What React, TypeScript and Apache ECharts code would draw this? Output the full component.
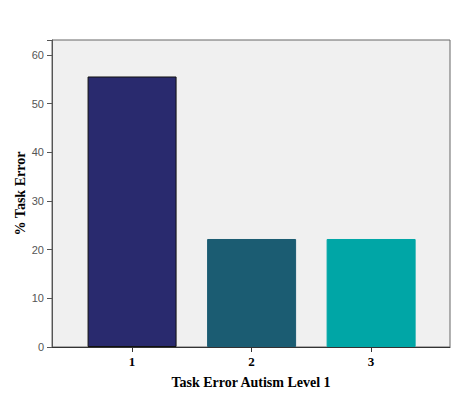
import React, { useEffect, useRef } from "react";
import * as echarts from "echarts";

const categories = ["1", "2", "3"];
const categoryPositions = [1, 2, 3];
const values = [55.6, 22.2, 22.2];
const barColors = ["#292a6e", "#1b5c72", "#00a6a6"];
const yTicks = [0, 10, 20, 30, 40, 50, 60];

export default function App() {
  const ref = useRef<HTMLDivElement>(null);
  useEffect(() => {
    if (!ref.current) return;
    const chart = echarts.init(ref.current, undefined, { renderer: "svg" });
    chart.setOption({
      animation: false,
      backgroundColor: "#ffffff",
      grid: {
        left: 52,
        right: 24,
        top: 40,
        bottom: 57,
        show: true,
        backgroundColor: "#f0f0f0",
        borderColor: "#666666",
        borderWidth: 1,
      },
      xAxis: {
        type: "value",
        min: 0.33,
        max: 3.66,
        name: "Task Error Autism Level 1",
        nameLocation: "middle",
        nameGap: 28,
        nameMoveOverlap: false,
        nameTextStyle: {
          fontFamily: "Liberation Serif",
          fontWeight: "bold",
          fontSize: 14,
          color: "#000",
        },
        splitLine: { show: false },
        axisLine: { show: true, lineStyle: { color: "#333", width: 1 } },
        axisTick: {
          show: true,
          length: 5,
          customValues: categoryPositions,
          lineStyle: { color: "#333" },
        },
        axisLabel: {
          customValues: categoryPositions,
          formatter: (v: number) => categories[categoryPositions.indexOf(Math.round(v))] ?? "",
          fontFamily: "Liberation Serif",
          fontWeight: "bold",
          fontSize: 13,
          color: "#000",
          margin: 8,
        },
      },
      yAxis: {
        type: "value",
        min: 0,
        max: 63.1,
        interval: 10,
        name: "% Task Error",
        nameLocation: "middle",
        nameGap: 25,
        nameMoveOverlap: false,
        nameRotate: 90,
        nameTextStyle: {
          fontFamily: "Liberation Serif",
          fontWeight: "bold",
          fontSize: 14,
          color: "#000",
        },
        splitLine: { show: false },
        axisLine: { show: true, lineStyle: { color: "#555", width: 1 } },
        axisTick: {
          show: true,
          length: 5,
          lineStyle: { color: "#555" },
        },
        axisLabel: {
          customValues: yTicks,
          fontFamily: "Liberation Sans",
          fontSize: 11,
          color: "#555",
          margin: 8,
        },
      },
      series: [
        {
          type: "bar",
          barWidth: 89,
          data: values.map((v, i) => ({
            value: [categoryPositions[i], v],
            itemStyle: {
              color: barColors[i],
              borderColor: i === 0 ? "#111" : barColors[i],
              borderWidth: 1,
            },
          })),
        },
      ],
    });
    return () => chart.dispose();
  }, []);
  return (
    <div
      ref={ref}
      style={{ position: "fixed", left: 0, top: 0, width: 474, height: 404 }}
    />
  );
}
